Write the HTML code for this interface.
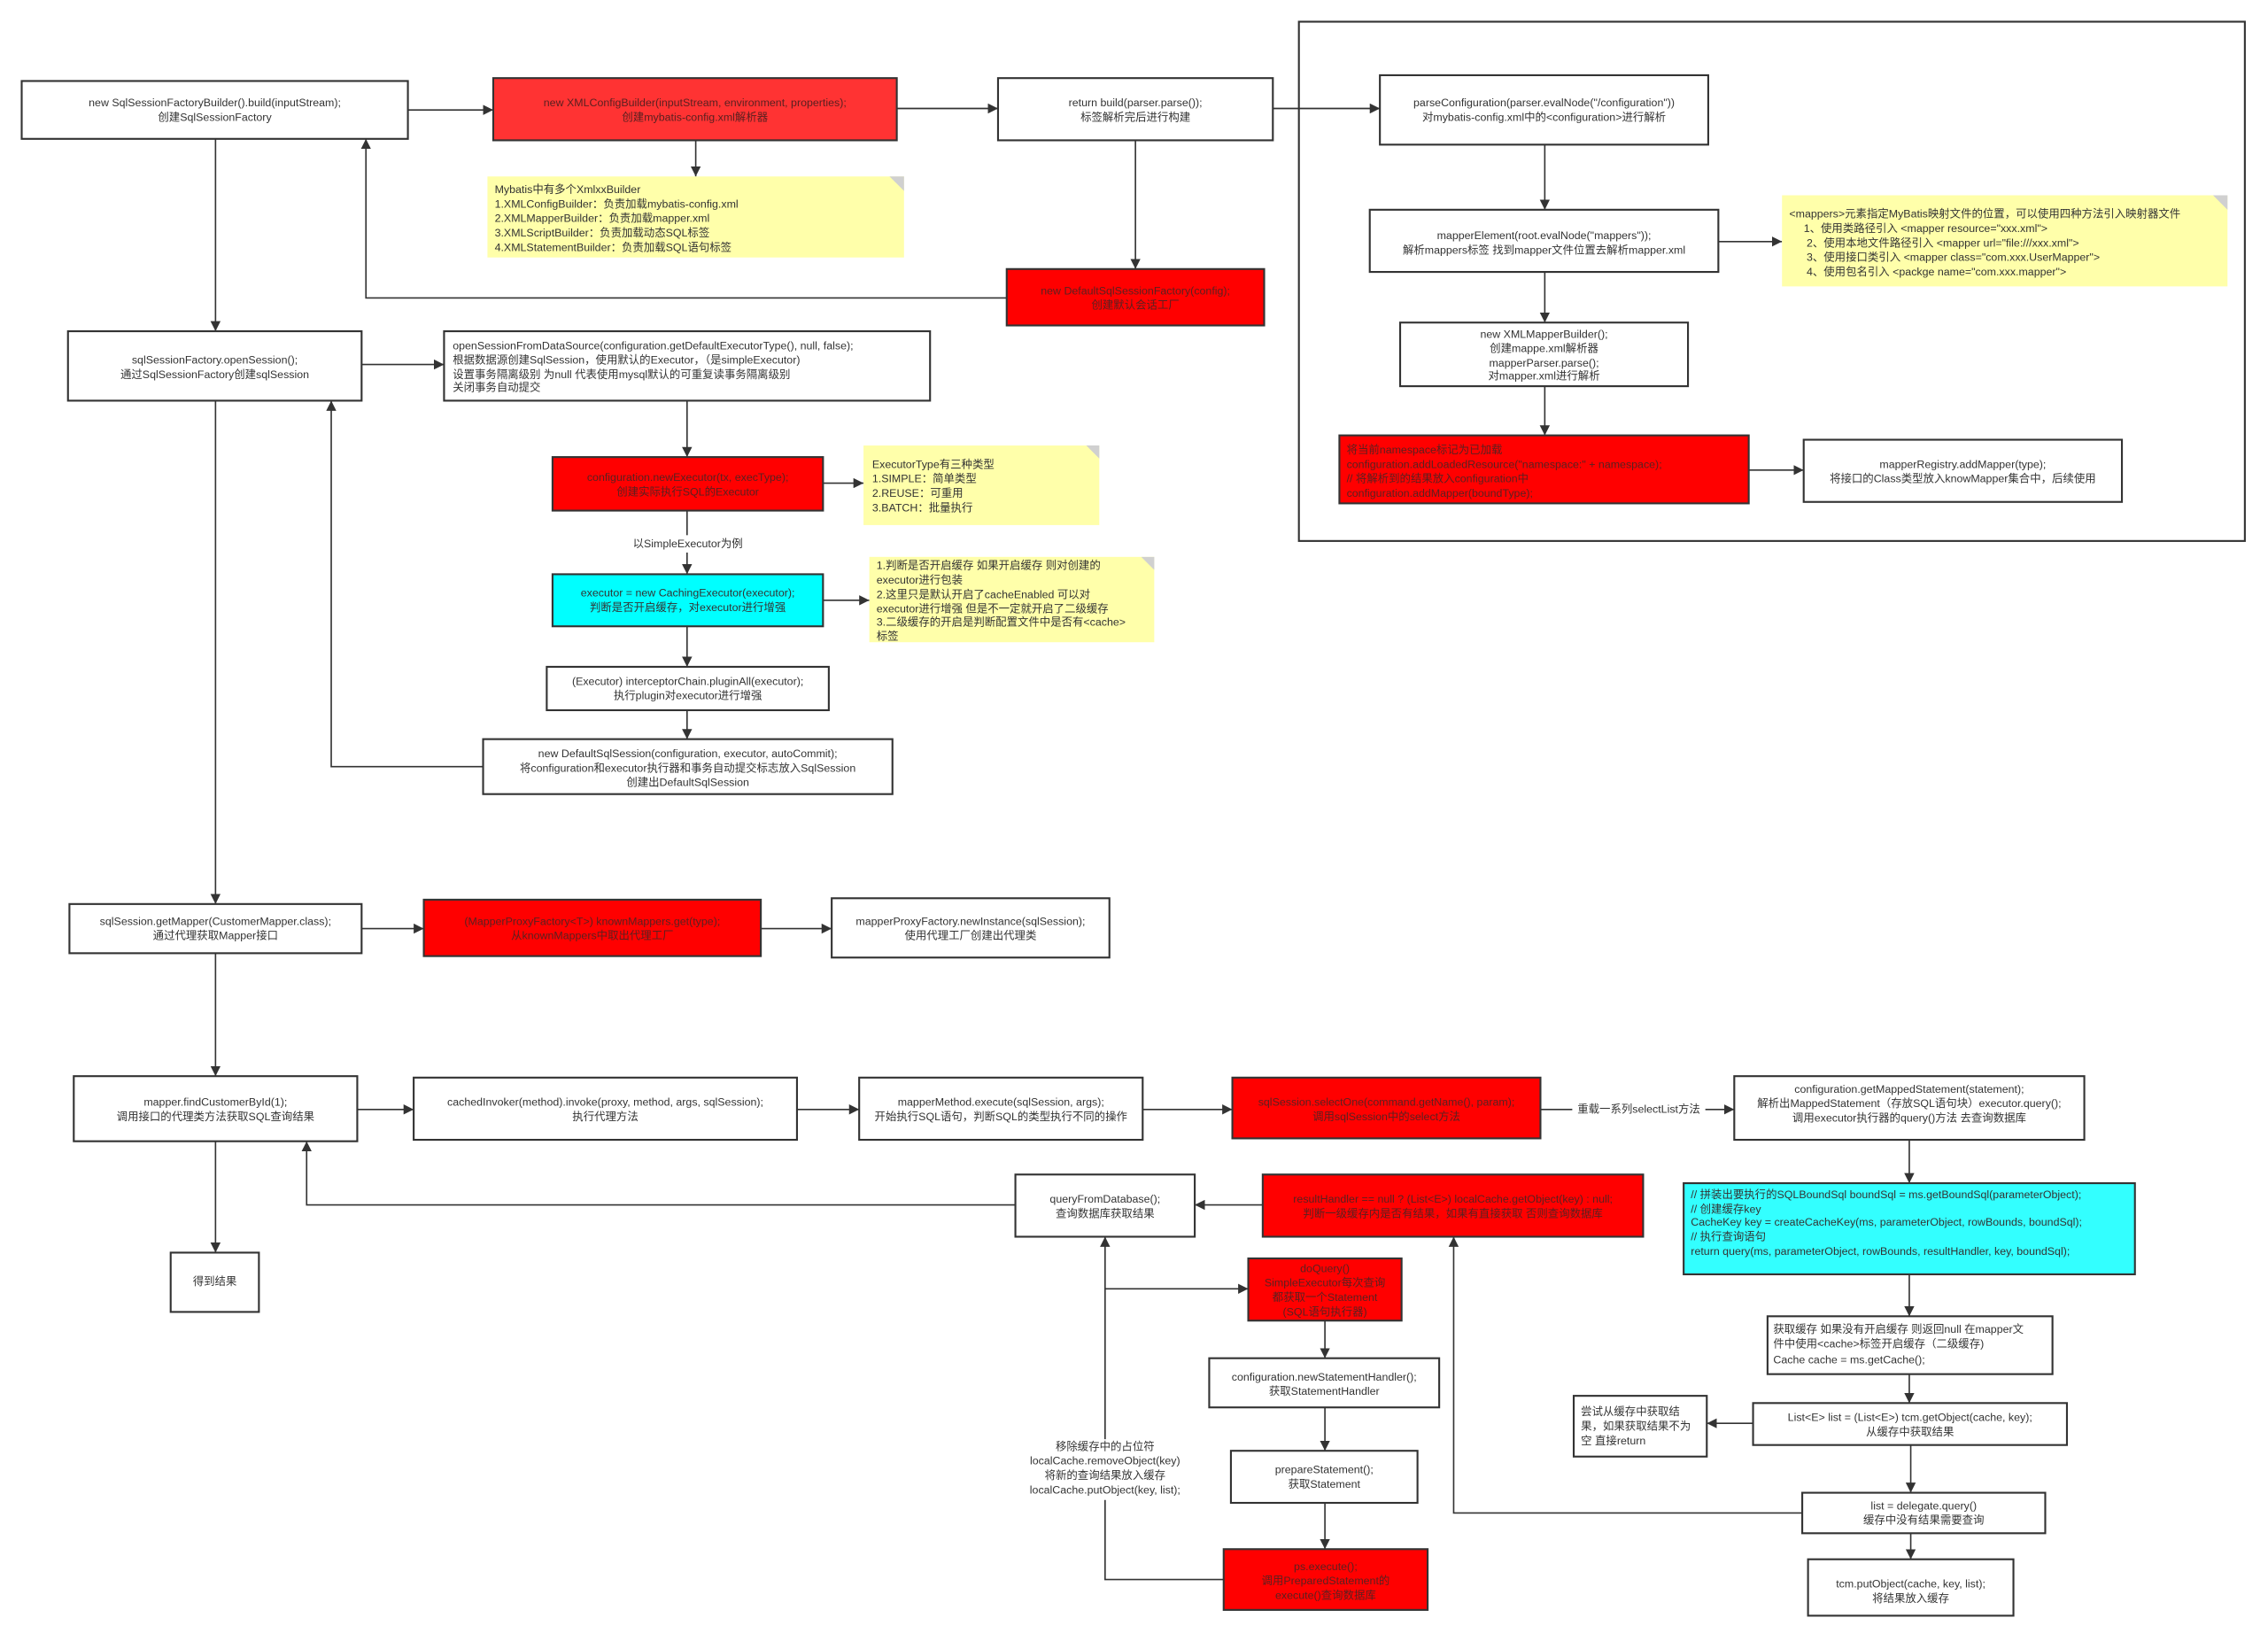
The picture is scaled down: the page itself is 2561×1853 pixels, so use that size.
<!DOCTYPE html>
<html><head><meta charset="utf-8"><style>
html,body{margin:0;padding:0;background:#fff;}
svg{display:block;}
.b{fill:#fff;stroke:#333;stroke-width:1.3;}
.r{fill:#ff0000;stroke:#333;stroke-width:1.3;}
.r2{fill:#ff3333;stroke:#333;stroke-width:1.3;}
.c{fill:#00ffff;stroke:#333;stroke-width:1.3;}
.c2{fill:#33ffff;stroke:#333;stroke-width:1.3;}
.n{fill:#ffffaa;stroke:none;}
.f{fill:#d0d0d0;}
.l{stroke:#333;stroke-width:1;fill:none;}
.a{stroke:#333;stroke-width:1;fill:none;marker-end:url(#ar);}
text{font-family:"Liberation Sans","Noto Sans CJK SC",sans-serif;font-size:7.6px;fill:#333;dominant-baseline:central;}
.m{text-anchor:middle;}
.rt{fill:#5a2020;}
</style></head><body>
<svg width="2561" height="1853" viewBox="0 0 1568 1134.5" preserveAspectRatio="none" xmlns="http://www.w3.org/2000/svg">
<defs>
<marker id="ar" viewBox="0 0 10 10" refX="10" refY="5" markerWidth="7" markerHeight="7" markerUnits="userSpaceOnUse" orient="auto">
<path d="M0,0 L10,5 L0,10 z" fill="#333"/>
</marker>
</defs>

<!-- big frame -->
<rect x="898" y="15" width="654" height="359" fill="none" stroke="#333" stroke-width="1.3"/>

<!-- connectors -->
<path class="a" d="M282,76 H341"/>
<path class="a" d="M620,75 H690"/>
<path class="a" d="M880,75 H954"/>
<path class="a" d="M481,97 V122"/>
<path class="a" d="M785,97 V186"/>
<path class="a" d="M696,206 H253 V96"/>
<path class="a" d="M149,96 V229"/>
<path class="a" d="M1068,100 V145"/>
<path class="a" d="M1188,167 H1232"/>
<path class="a" d="M1068,188 V223"/>
<path class="a" d="M1068,267 V301"/>
<path class="a" d="M1209,325 H1247"/>
<path class="a" d="M250,252 H307"/>
<path class="a" d="M475,277 V316"/>
<path class="a" d="M569,334 H597"/>
<path class="a" d="M475,353 V397"/>
<path class="a" d="M569,415 H601"/>
<path class="a" d="M475,433 V461"/>
<path class="a" d="M475,491 V511"/>
<path class="a" d="M334,530 H229 V277"/>
<path class="a" d="M149,277 V625"/>
<path class="a" d="M250,642 H293"/>
<path class="a" d="M526,642 H575"/>
<path class="a" d="M149,659 V744"/>
<path class="a" d="M247,767 H286"/>
<path class="a" d="M551,767 H594"/>
<path class="a" d="M790,767 H852"/>
<path class="a" d="M1065,767 H1199"/>
<path class="a" d="M149,789 V866"/>
<path class="a" d="M702,833 H212 V789"/>
<path class="a" d="M873,833 H826"/>
<path class="a" d="M1320,788 V818"/>
<path class="a" d="M1320,881 V910"/>
<path class="a" d="M1320,950 V970"/>
<path class="a" d="M1212,984 H1180"/>
<path class="a" d="M1321,999 V1032"/>
<path class="a" d="M1246,1046 H1005 V855"/>
<path class="a" d="M1321,1060 V1078"/>
<path class="a" d="M764,891 H863"/>
<path class="a" d="M846,1092 H764 V855"/>
<path class="a" d="M916,913 V939"/>
<path class="a" d="M916,973 V1003"/>
<path class="a" d="M916,1039 V1071"/>

<!-- boxes -->
<rect class="b" x="15" y="56" width="267" height="40"/>
<text class="m" x="148.5" y="71">new SqlSessionFactoryBuilder().build(inputStream);</text>
<text class="m" x="148.5" y="81">创建SqlSessionFactory</text>

<rect class="r2" x="341" y="54" width="279" height="43"/>
<text class="m rt" x="480.5" y="71">new XMLConfigBuilder(inputStream, environment, properties);</text>
<text class="m rt" x="480.5" y="81">创建mybatis-config.xml解析器</text>

<rect class="b" x="690" y="54" width="190" height="43"/>
<text class="m" x="785" y="71">return build(parser.parse());</text>
<text class="m" x="785" y="81">标签解析完后进行构建</text>

<rect class="n" x="337" y="122" width="288" height="56"/>
<path class="f" d="M615,122 L625,122 L625,132 z"/>
<path d="M615,122 L625,132" stroke="#fff" stroke-width="0"/>
<text x="342" y="131">Mybatis中有多个XmlxxBuilder</text>
<text x="342" y="141">1.XMLConfigBuilder：负责加载mybatis-config.xml</text>
<text x="342" y="151">2.XMLMapperBuilder：负责加载mapper.xml</text>
<text x="342" y="161">3.XMLScriptBuilder：负责加载动态SQL标签</text>
<text x="342" y="171">4.XMLStatementBuilder：负责加载SQL语句标签</text>

<rect class="r" x="696" y="186" width="178" height="39"/>
<text class="m rt" x="785" y="201">new DefaultSqlSessionFactory(config);</text>
<text class="m rt" x="785" y="211">创建默认会话工厂</text>

<rect class="b" x="954" y="52" width="227" height="48"/>
<text class="m" x="1067.5" y="71">parseConfiguration(parser.evalNode("/configuration"))</text>
<text class="m" x="1067.5" y="81">对mybatis-config.xml中的&lt;configuration&gt;进行解析</text>

<rect class="b" x="947" y="145" width="241" height="43"/>
<text class="m" x="1067.5" y="163">mapperElement(root.evalNode("mappers"));</text>
<text class="m" x="1067.5" y="173">解析mappers标签 找到mapper文件位置去解析mapper.xml</text>

<rect class="n" x="1232" y="135" width="308" height="63"/>
<path class="f" d="M1530,135 L1540,135 L1540,145 z"/>
<text x="1237" y="148">&lt;mappers&gt;元素指定MyBatis映射文件的位置，可以使用四种方法引入映射器文件</text>
<text x="1247" y="158">1、使用类路径引入 &lt;mapper resource="xxx.xml"&gt;</text>
<text x="1249" y="168">2、使用本地文件路径引入 &lt;mapper url="file:///xxx.xml"&gt;</text>
<text x="1249" y="178">3、使用接口类引入 &lt;mapper class="com.xxx.UserMapper"&gt;</text>
<text x="1249" y="188">4、使用包名引入 &lt;packge name="com.xxx.mapper"&gt;</text>

<rect class="b" x="968" y="223" width="199" height="44"/>
<text class="m" x="1067.5" y="231">new XMLMapperBuilder();</text>
<text class="m" x="1067.5" y="241">创建mappe.xml解析器</text>
<text class="m" x="1067.5" y="251">mapperParser.parse();</text>
<text class="m" x="1067.5" y="260">对mapper.xml进行解析</text>

<rect class="r" x="926" y="301" width="283" height="47"/>
<text class="rt" x="931" y="311">将当前namespace标记为已加载</text>
<text class="rt" x="931" y="321">configuration.addLoadedResource("namespace:" + namespace);</text>
<text class="rt" x="931" y="331">// 将解析到的结果放入configuration中</text>
<text class="rt" x="931" y="341">configuration.addMapper(boundType);</text>

<rect class="b" x="1247" y="304" width="220" height="43"/>
<text class="m" x="1357" y="321">mapperRegistry.addMapper(type);</text>
<text class="m" x="1357" y="331">将接口的Class类型放入knowMapper集合中，后续使用</text>

<rect class="b" x="47" y="229" width="203" height="48"/>
<text class="m" x="148.5" y="249">sqlSessionFactory.openSession();</text>
<text class="m" x="148.5" y="259">通过SqlSessionFactory创建sqlSession</text>

<rect class="b" x="307" y="229" width="336" height="48"/>
<text x="313" y="239">openSessionFromDataSource(configuration.getDefaultExecutorType(), null, false);</text>
<text x="313" y="249">根据数据源创建SqlSession，使用默认的Executor，（是simpleExecutor)</text>
<text x="313" y="259">设置事务隔离级别 为null 代表使用mysql默认的可重复读事务隔离级别</text>
<text x="313" y="268">关闭事务自动提交</text>

<rect class="r" x="382" y="316" width="187" height="37"/>
<text class="m rt" x="475.5" y="330">configuration.newExecutor(tx, execType);</text>
<text class="m rt" x="475.5" y="340">创建实际执行SQL的Executor</text>

<rect class="n" x="597" y="308" width="163" height="55"/>
<path class="f" d="M751,308 L760,308 L760,317 z"/>
<text x="603" y="321">ExecutorType有三种类型</text>
<text x="603" y="331">1.SIMPLE：简单类型</text>
<text x="603" y="341">2.REUSE：可重用</text>
<text x="603" y="351">3.BATCH：批量执行</text>

<rect x="430" y="370" width="90" height="12" fill="#fff"/>
<text class="m" x="475.5" y="376">以SimpleExecutor为例</text>

<rect class="c" x="382" y="397" width="187" height="36"/>
<text class="m" x="475.5" y="410">executor = new CachingExecutor(executor);</text>
<text class="m" x="475.5" y="420">判断是否开启缓存，对executor进行增强</text>

<rect class="n" x="601" y="385" width="197" height="59"/>
<path class="f" d="M789,385 L798,385 L798,394 z"/>
<text x="606" y="391">1.判断是否开启缓存 如果开启缓存 则对创建的</text>
<text x="606" y="401">executor进行包装</text>
<text x="606" y="411"> 2.这里只是默认开启了cacheEnabled 可以对</text>
<text x="606" y="421">executor进行增强 但是不一定就开启了二级缓存</text>
<text x="606" y="430"> 3.二级缓存的开启是判断配置文件中是否有&lt;cache&gt;</text>
<text x="606" y="440">标签</text>

<rect class="b" x="378" y="461" width="195" height="30"/>
<text class="m" x="475.5" y="471">(Executor) interceptorChain.pluginAll(executor);</text>
<text class="m" x="475.5" y="481">执行plugin对executor进行增强</text>

<rect class="b" x="334" y="511" width="283" height="38"/>
<text class="m" x="475.5" y="521">new DefaultSqlSession(configuration, executor, autoCommit);</text>
<text class="m" x="475.5" y="531">将configuration和executor执行器和事务自动提交标志放入SqlSession</text>
<text class="m" x="475.5" y="541">创建出DefaultSqlSession</text>

<rect class="b" x="48" y="625" width="202" height="34"/>
<text class="m" x="149" y="637">sqlSession.getMapper(CustomerMapper.class);</text>
<text class="m" x="149" y="647">通过代理获取Mapper接口</text>

<rect class="r" x="293" y="622" width="233" height="39"/>
<text class="m rt" x="409.5" y="637">(MapperProxyFactory&lt;T&gt;) knownMappers.get(type);</text>
<text class="m rt" x="409.5" y="647">从knownMappers中取出代理工厂</text>

<rect class="b" x="575" y="621" width="192" height="41"/>
<text class="m" x="671" y="637">mapperProxyFactory.newInstance(sqlSession);</text>
<text class="m" x="671" y="647">使用代理工厂创建出代理类</text>

<rect class="b" x="51" y="744" width="196" height="45"/>
<text class="m" x="149" y="762">mapper.findCustomerById(1);</text>
<text class="m" x="149" y="772">调用接口的代理类方法获取SQL查询结果</text>

<rect class="b" x="286" y="745" width="265" height="43"/>
<text class="m" x="418.5" y="762">cachedInvoker(method).invoke(proxy, method, args, sqlSession);</text>
<text class="m" x="418.5" y="772">执行代理方法</text>

<rect class="b" x="594" y="745" width="196" height="43"/>
<text class="m" x="692" y="762">mapperMethod.execute(sqlSession, args);</text>
<text class="m" x="692" y="772">开始执行SQL语句，判断SQL的类型执行不同的操作</text>

<rect class="r" x="852" y="745" width="213" height="42"/>
<text class="m rt" x="958.5" y="762">sqlSession.selectOne(command.getName(), param);</text>
<text class="m rt" x="958.5" y="772">调用sqlSession中的select方法</text>

<rect x="1087" y="761" width="92" height="12" fill="#fff"/>
<text class="m" x="1133" y="767">重载一系列selectList方法</text>

<rect class="b" x="1199" y="744" width="242" height="44"/>
<text class="m" x="1320" y="753">configuration.getMappedStatement(statement);</text>
<text class="m" x="1320" y="763">解析出MappedStatement（存放SQL语句块）executor.query();</text>
<text class="m" x="1320" y="773">调用executor执行器的query()方法 去查询数据库</text>

<rect class="b" x="118" y="866" width="61" height="41"/>
<text class="m" x="148.5" y="886">得到结果</text>

<rect class="b" x="702" y="812" width="124" height="43"/>
<text class="m" x="764" y="829">queryFromDatabase();</text>
<text class="m" x="764" y="839">查询数据库获取结果</text>

<rect class="r" x="873" y="812" width="263" height="43"/>
<text class="m rt" x="1004.5" y="829">resultHandler == null ? (List&lt;E&gt;) localCache.getObject(key) : null;</text>
<text class="m rt" x="1004.5" y="839">判断一级缓存内是否有结果，如果有直接获取 否则查询数据库</text>

<rect class="c2" x="1164" y="818" width="312" height="63"/>
<text x="1169" y="826">// 拼装出要执行的SQLBoundSql boundSql = ms.getBoundSql(parameterObject);</text>
<text x="1169" y="836">// 创建缓存key</text>
<text x="1169" y="845">CacheKey key = createCacheKey(ms, parameterObject, rowBounds, boundSql);</text>
<text x="1169" y="855">// 执行查询语句</text>
<text x="1169" y="865">return query(ms, parameterObject, rowBounds, resultHandler, key, boundSql);</text>

<rect class="b" x="1222" y="910" width="197" height="40"/>
<text x="1226" y="919">获取缓存 如果没有开启缓存 则返回null 在mapper文</text>
<text x="1226" y="929">件中使用&lt;cache&gt;标签开启缓存（二级缓存)</text>
<text x="1226" y="940">Cache cache = ms.getCache();</text>

<rect class="b" x="1212" y="970" width="217" height="29"/>
<text class="m" x="1320.5" y="980">List&lt;E&gt; list = (List&lt;E&gt;) tcm.getObject(cache, key);</text>
<text class="m" x="1320.5" y="990">从缓存中获取结果</text>

<rect class="b" x="1088" y="965" width="92" height="42"/>
<text x="1093" y="976">尝试从缓存中获取结</text>
<text x="1093" y="986">果，如果获取结果不为</text>
<text x="1093" y="996">空 直接return</text>

<rect class="b" x="1246" y="1032" width="168" height="28"/>
<text class="m" x="1330" y="1041">list = delegate.query()</text>
<text class="m" x="1330" y="1051">缓存中没有结果需要查询</text>

<rect class="b" x="1250" y="1078" width="142" height="39"/>
<text class="m" x="1321" y="1095">tcm.putObject(cache, key, list);</text>
<text class="m" x="1321" y="1105">将结果放入缓存</text>

<rect class="r" x="863" y="870" width="106" height="43"/>
<text class="m rt" x="916" y="877">doQuery()</text>
<text class="m rt" x="916" y="887">SimpleExecutor每次查询</text>
<text class="m rt" x="916" y="897">都获取一个Statement</text>
<text class="m rt" x="916" y="907">(SQL语句执行器)</text>

<rect class="b" x="836" y="939" width="159" height="34"/>
<text class="m" x="915.5" y="952">configuration.newStatementHandler();</text>
<text class="m" x="915.5" y="962">获取StatementHandler</text>

<rect class="b" x="851" y="1003" width="129" height="36"/>
<text class="m" x="915.5" y="1016">prepareStatement();</text>
<text class="m" x="915.5" y="1026">获取Statement</text>

<rect class="r" x="846" y="1071" width="141" height="42"/>
<text class="m rt" x="916.5" y="1083">ps.execute();</text>
<text class="m rt" x="916.5" y="1093">调用PreparedStatement的</text>
<text class="m rt" x="916.5" y="1103">execute()查询数据库</text>

<rect x="705" y="995" width="118" height="42" fill="#fff"/>
<text class="m" x="764" y="1000">移除缓存中的占位符</text>
<text class="m" x="764" y="1010">localCache.removeObject(key)</text>
<text class="m" x="764" y="1020">将新的查询结果放入缓存</text>
<text class="m" x="764" y="1030">localCache.putObject(key, list);</text>
</svg>
</body></html>
